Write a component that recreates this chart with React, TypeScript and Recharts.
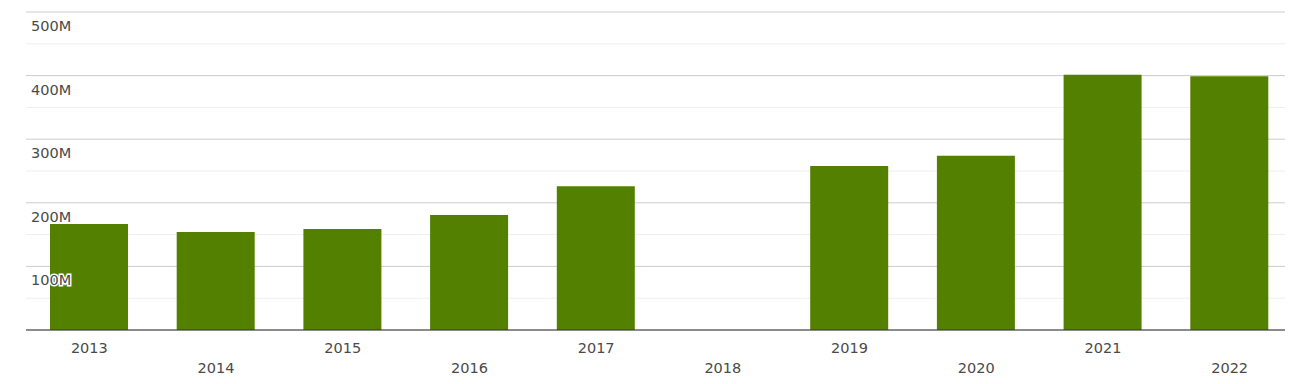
import {Bar, BarChart, CartesianGrid, XAxis, YAxis} from "recharts";

// 연도별 값 (단위: 원 그대로)
const years = ["2013", "2014", "2015", "2016", "2017", "2018", "2019", "2020", "2021", "2022"];
const values: (number | null)[] = [
    166.5e6, 154e6, 159e6, 181e6, 226e6, null, 258e6, 274e6, 401.5e6, 399e6,
];
const yTicks = [0, 100e6, 200e6, 300e6, 400e6, 500e6];
const minorTicks = [50e6, 150e6, 250e6, 350e6, 450e6];

const chartData = years.map((year, i) => ({year, value: values[i]}));

const FONT = "'DejaVu Sans', sans-serif";
const TEXT = "#4a4a4a";

function YTick(props: any) {
    const {x, y, payload} = props;
    const v = payload.value as number;
    if (v === 0) return null;
    return (
        <text
            x={x + 5}
            y={y + 19}
            textAnchor="start"
            fontFamily={FONT}
            fontSize={14.5}
            fill={TEXT}
            stroke="#fff"
            strokeWidth={3}
            paintOrder="stroke"
        >
            {`${v / 1e6}M`}
        </text>
    );
}

function XTick(props: any) {
    const {x, y, payload, index} = props;
    return (
        <text
            x={x}
            y={y + (index % 2 === 0 ? 23 : 43)}
            textAnchor="middle"
            fontFamily={FONT}
            fontSize={14.5}
            fill={TEXT}
        >
            {payload.value}
        </text>
    );
}

function App() {
    // 페이지 여백(8px)을 상쇄해서 스크롤 없이 창 전체에 맞춘다
    return (
        <div style={{margin: -8, width: 1293, height: 384, overflow: "hidden"}}>
            <BarChart
                width={1293}
                height={384}
                data={chartData}
                margin={{top: 12, right: 0, bottom: 0, left: 25}}
                barSize={78}
            >
                <CartesianGrid vertical={false} horizontalValues={minorTicks} stroke="#eee"/>
                <CartesianGrid vertical={false} horizontalValues={yTicks} stroke="#ccc"/>
                <Bar dataKey="value" fill="#548000" isAnimationActive={false}/>
                <XAxis
                    dataKey="year"
                    interval={0}
                    height={54}
                    tickLine={false}
                    tickSize={0}
                    tickMargin={0}
                    axisLine={{stroke: "#333"}}
                    tick={<XTick/>}
                />
                <YAxis
                    width={1}
                    domain={[0, 500e6]}
                    ticks={yTicks}
                    interval={0}
                    axisLine={false}
                    tickLine={false}
                    tickSize={0}
                    tickMargin={0}
                    tick={<YTick/>}
                />
            </BarChart>
        </div>
    );
}

export default App;
